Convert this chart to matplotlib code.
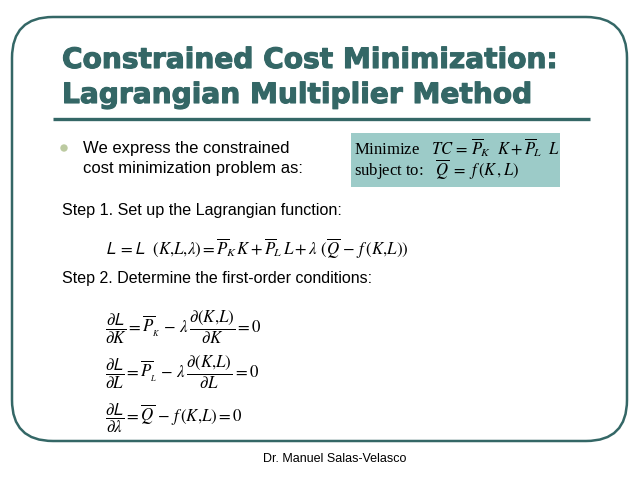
import matplotlib
matplotlib.use('Agg')
import matplotlib.pyplot as plt
import matplotlib.patheffects as pe
from matplotlib.patches import FancyBboxPatch, Rectangle, Circle

plt.rcParams['mathtext.fontset'] = 'stix'

# slide content
title_lines = ['Constrained Cost Minimization:', 'Lagrangian Multiplier Method']
bullet_lines = ['We express the constrained', 'cost minimization problem as:']
box_lines = [r'Minimize   $TC\, =\, \overline{P}_{\!K}\ \ K + \overline{P}_{\!L}\ \ L$',
             r'subject to:   $\overline{Q}\ =\ f\,(K\,,L)$']
step_labels = ['Step 1. Set up the Lagrangian function:',
               'Step 2. Determine the first-order conditions:']
lagrangian = r'$\mathsf{L}\ =\mathsf{L}\ \ (K{,}L{,}\lambda) = \overline{P}_{\!K}\,K + \overline{P}_{\!L}\,L + \lambda\ (\overline{Q}\, -\, f\,(K{,}L))$'
foc = [r'$\dfrac{\partial\mathsf{L}}{\partial K} = \overline{P}_{\!_K}\,-\,\lambda\,\dfrac{\partial(K{,}L)}{\partial K} = 0$',
       r'$\dfrac{\partial\mathsf{L}}{\partial L} = \overline{P}_{\!_L}\,-\,\lambda\,\dfrac{\partial(K{,}L)}{\partial L} = 0$',
       r'$\dfrac{\partial\mathsf{L}}{\partial \lambda} = \overline{Q}\,-\,f\,(K{,}L) = 0$']
footer = 'Dr. Manuel Salas-Velasco'

teal = '#346766'
box_color = '#9ccbc8'

fig = plt.figure(figsize=(6.38, 4.79), dpi=100)
ax = fig.add_axes([0, 0, 1, 1])
ax.set_xlim(0, 638)
ax.set_ylim(479, 0)
ax.axis('off')

# rounded frame
frame = FancyBboxPatch((12 + 41, 17 + 41), 615 - 82, 424 - 82,
                       boxstyle='round,pad=41', fill=False,
                       edgecolor=teal, linewidth=1.8)
ax.add_patch(frame)

# title
for i, line in enumerate(title_lines):
    ax.text(62, 68 + i * 35, line, fontsize=20.2, fontweight='bold',
            family='DejaVu Sans', color=teal, va='baseline',
            path_effects=[pe.withStroke(linewidth=0.8, foreground=teal)])
ax.plot([53, 590], [119, 119], color=teal, linewidth=2.4, solid_capstyle='butt')

# bullet
ax.add_patch(Circle((64, 148), 3, color='#bccaa0'))
for i, line in enumerate(bullet_lines):
    ax.text(83, 153 + i * 20, line, fontsize=12, family='Liberation Sans',
            va='baseline')

# highlighted problem box
ax.add_patch(Rectangle((351, 133), 209, 54, color=box_color, linewidth=0))
for i, line in enumerate(box_lines):
    ax.text(354, 155 + i * 21, line, fontsize=12, family='Liberation Serif',
            va='baseline')

# steps
ax.text(62, 215, step_labels[0], fontsize=11.6, family='Liberation Sans', va='baseline')
ax.text(105, 255, lagrangian, fontsize=12.2, va='baseline')
ax.text(62, 283, step_labels[1], fontsize=11.5, family='Liberation Sans', va='baseline')

for i, eq in enumerate(foc):
    ax.text(105, [327, 372, 418][i], eq, fontsize=12.2, va='center')

ax.text(335, 462, footer, fontsize=9, family='Liberation Sans', ha='center',
        va='baseline')

fig.savefig('out.png', dpi=100)
